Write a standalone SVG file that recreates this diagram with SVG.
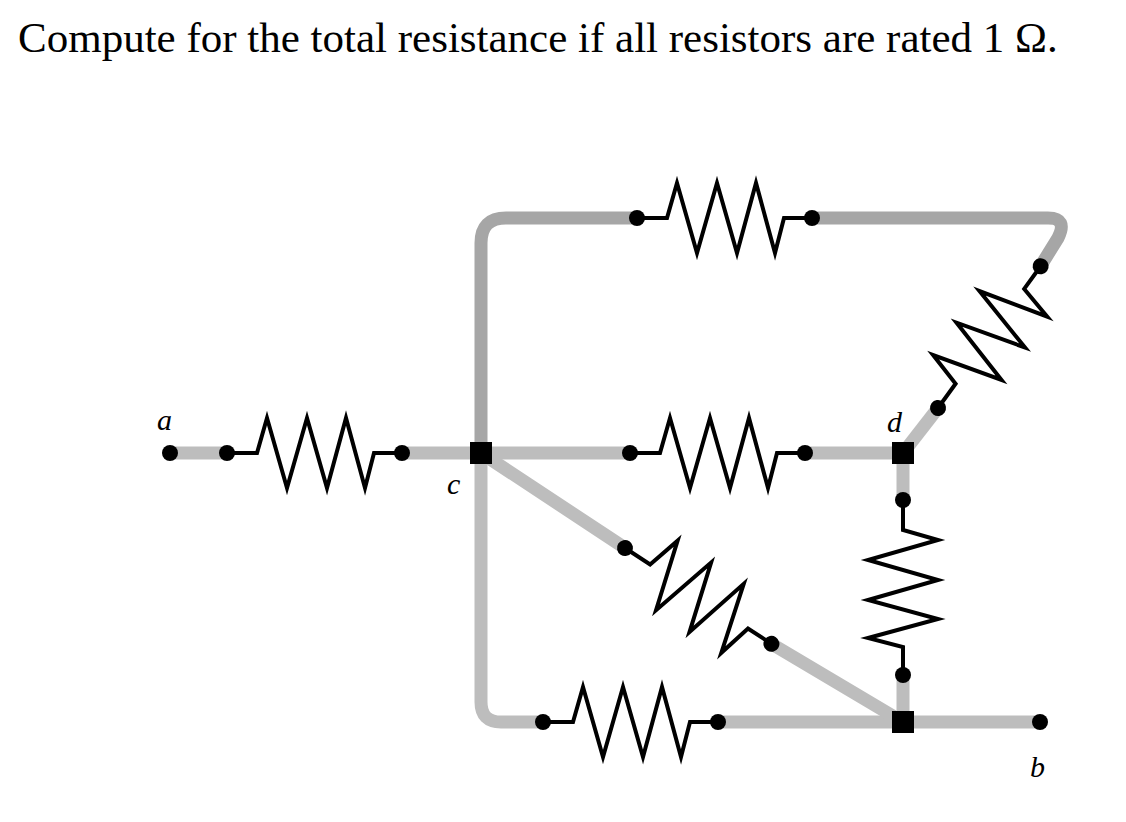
<svg xmlns="http://www.w3.org/2000/svg" width="1126" height="822" viewBox="0 0 1126 822">
<style>
.w{fill:none;stroke:#bdbdbd;stroke-width:13;stroke-linejoin:round}
.wd{fill:none;stroke:#a6a6a6;stroke-width:13;stroke-linejoin:round}
.z{fill:none;stroke:#000;stroke-width:4;stroke-linejoin:miter}
.lb{font-family:"Liberation Serif",serif;font-style:italic;font-size:30px}
</style>
<defs>
<g id="R">
<polyline class="z" points="0,0 30,0 40,-35 60,35 80,-35 100,35 119,-35 138,35 147,0 175,0"/>
<circle cx="0" cy="0" r="8"/>
<circle cx="175" cy="0" r="8"/>
</g>
</defs>
<rect width="1126" height="822" fill="#fff"/>
<text x="18" y="52" font-family="Liberation Serif,serif" font-size="43">Compute for the total resistance if all resistors are rated 1 Ω.</text>
<g id="connectors">
<path class="wd" d="M481,453 V243 Q481,218 506,218 H637"/>
<path class="wd" d="M815,218 H1048 Q1068,218 1058,238 L1040,267"/>
<path class="w" d="M938,408 L903,453"/>
<path class="w" d="M170,453 H227 M402,453 H630 M808,453 H903 V500 M903,675 V722"/>
<path class="w" d="M481,453 V702 Q481,722 501,722 H543 M718,722 H1040"/>
<path class="w" d="M481,453 L625,548 M770,643 L903,722"/>
</g>
<g id="node-a"><circle cx="170" cy="453" r="8"/><text class="lb" x="157" y="430">a</text></g>
<g id="node-c"><rect x="470" y="442" width="22" height="22"/><text class="lb" x="447" y="494">c</text></g>
<g id="node-d"><rect x="892" y="442" width="22" height="22"/><text class="lb" x="887" y="432">d</text></g>
<g id="node-b"><rect x="892" y="711" width="22" height="22"/><circle cx="1040" cy="722" r="8"/><text class="lb" x="1030" y="777">b</text></g>
<g id="R1"><use href="#R" transform="translate(227,453)"/></g>
<g id="R2"><use href="#R" transform="translate(637,218)"/></g>
<g id="R3"><use href="#R" transform="translate(630,453)"/></g>
<g id="R4"><use href="#R" transform="translate(543,722)"/></g>
<g id="R5"><use href="#R" transform="translate(625,548) rotate(33.2)"/></g>
<g id="R6"><use href="#R" transform="translate(903,500) rotate(90)"/></g>
<g id="R7"><use href="#R" transform="translate(938,408) rotate(-54.1)"/></g>
</svg>
